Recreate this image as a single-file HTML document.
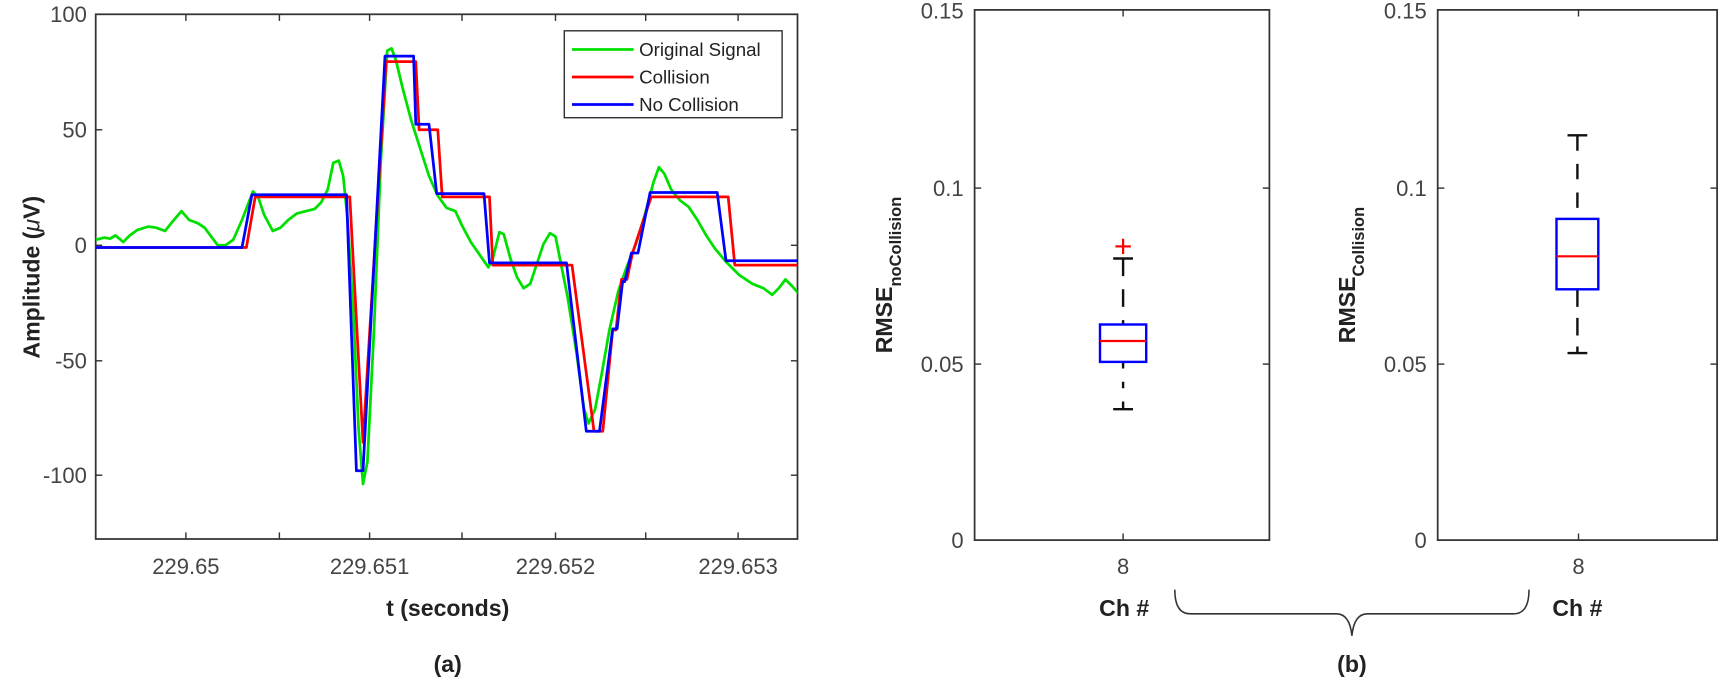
<!DOCTYPE html>
<html><head><meta charset="utf-8"><style>
html,body{margin:0;padding:0;background:#fff}
svg{display:block}
text{font-family:"Liberation Sans",Arial,sans-serif}
.tl{font-size:20px;fill:#444}
.b{font-weight:bold;font-size:21px;fill:#222}
</style></head><body>
<svg width="1725" height="680" viewBox="0 0 1725 680" xmlns="http://www.w3.org/2000/svg">
<g transform="scale(1.1)">
<!-- Panel (a) -->
<rect x="87" y="13" width="638" height="477" fill="none" stroke="#333" stroke-width="1.6"/>
<g stroke="#333" stroke-width="1.3">
<line x1="169" y1="490" x2="169" y2="484"/><line x1="169" y1="13" x2="169" y2="19"/>
<line x1="254" y1="490" x2="254" y2="484"/><line x1="254" y1="13" x2="254" y2="19"/>
<line x1="336" y1="490" x2="336" y2="484"/><line x1="336" y1="13" x2="336" y2="19"/>
<line x1="420" y1="490" x2="420" y2="484"/><line x1="420" y1="13" x2="420" y2="19"/>
<line x1="505" y1="490" x2="505" y2="484"/><line x1="505" y1="13" x2="505" y2="19"/>
<line x1="587" y1="490" x2="587" y2="484"/><line x1="587" y1="13" x2="587" y2="19"/>
<line x1="671" y1="490" x2="671" y2="484"/><line x1="671" y1="13" x2="671" y2="19"/>
<line x1="87" y1="118" x2="93" y2="118"/><line x1="725" y1="118" x2="719" y2="118"/>
<line x1="87" y1="223" x2="93" y2="223"/><line x1="725" y1="223" x2="719" y2="223"/>
<line x1="87" y1="328" x2="93" y2="328"/><line x1="725" y1="328" x2="719" y2="328"/>
<line x1="87" y1="432" x2="93" y2="432"/><line x1="725" y1="432" x2="719" y2="432"/>
</g>
<g class="tl" text-anchor="end">
<text x="79" y="20">100</text><text x="79" y="125">50</text><text x="79" y="230">0</text>
<text x="79" y="335">-50</text><text x="79" y="439">-100</text>
</g>
<g class="tl" text-anchor="middle">
<text x="169" y="522">229.65</text><text x="336" y="522">229.651</text>
<text x="505" y="522">229.652</text><text x="671" y="522">229.653</text>
</g>
<text class="b" x="407" y="560" text-anchor="middle">t (seconds)</text>
<text class="b" transform="translate(36,252) rotate(-90)" text-anchor="middle">Amplitude (<tspan font-style="italic" font-weight="normal">μ</tspan>V)</text>
<text class="b" x="407" y="611" text-anchor="middle">(a)</text>

<svg x="87" y="13" width="638" height="477" viewBox="87 13 638 477" overflow="hidden">
<polyline fill="none" stroke="#00e000" stroke-width="2.5" stroke-linejoin="round" points="87,218 95,216 100,217 105,214 112,220 118,214 125,209 135,206 142,207 150,210 158,200 165,192 172,200 180,203 186,207 192,215 198,223 205,223 212,218 220,200 230,174 235,180 240,195 248,210 255,207 262,200 270,194 278,192 286,190 292,184 298,172 303,148 308,146 312,160 316,200 321,280 326,390 330,440 334,420 340,300 346,150 352,46 356,44 360,55 366,80 374,110 382,135 390,160 398,178 406,189 414,192 420,205 428,220 437,233 444,243 448,235 454,211 458,213 464,235 470,252 476,262 482,258 488,240 494,222 500,212 505,215 510,240 516,270 524,320 531,372 535,385 541,372 547,340 554,300 562,265 570,242 578,222 586,196 594,166 599,152 604,158 610,172 618,182 626,188 634,200 642,214 650,226 660,238 672,250 684,258 694,262 702,268 708,262 714,254 720,260 727,268"/>
<polyline fill="none" stroke="#ff0000" stroke-width="2.5" stroke-linejoin="round" points="87,225 224,225 232,179 318,179 330,402 351,56 378,56 381,118 398,118 402,179 445,179 448,241 520,241 540,392 548,392 557,300 560,300 565,254 570,254 575,230 592,179 662,179 668,241 727,241"/>
<polyline fill="none" stroke="#0000ff" stroke-width="2.5" stroke-linejoin="round" points="87,225 220,225 229,177 315,177 324,428 330,428 350,51 376,51 378,113 390,113 397,176 440,176 445,239 515,239 533,392 545,392 557,299 561,299 566,256 568,256 574,230 580,230 591,175 652,175 660,237 727,237"/>
</svg>
<!-- legend -->
<rect x="513" y="28" width="198" height="79" fill="#fff" stroke="#333" stroke-width="1.3"/>
<line x1="520" y1="45" x2="576" y2="45" stroke="#00e000" stroke-width="2.5"/>
<line x1="520" y1="70" x2="576" y2="70" stroke="#ff0000" stroke-width="2.5"/>
<line x1="520" y1="95" x2="576" y2="95" stroke="#0000ff" stroke-width="2.5"/>
<g font-size="17" fill="#222"><text x="581" y="51">Original Signal</text><text x="581" y="76">Collision</text><text x="581" y="101">No Collision</text></g>

<!-- Box plot 1 -->
<rect x="886" y="9" width="268" height="482" fill="none" stroke="#333" stroke-width="1.6"/>
<g stroke="#333" stroke-width="1.3">
<line x1="1021" y1="491" x2="1021" y2="485"/><line x1="1021" y1="9" x2="1021" y2="15"/>
<line x1="886" y1="171" x2="892" y2="171"/><line x1="1154" y1="171" x2="1148" y2="171"/>
<line x1="886" y1="331" x2="892" y2="331"/><line x1="1154" y1="331" x2="1148" y2="331"/>
</g>
<g class="tl" text-anchor="end"><text x="876" y="17">0.15</text><text x="876" y="178">0.1</text><text x="876" y="338">0.05</text><text x="876" y="498">0</text></g>
<text class="tl" x="1021" y="522" text-anchor="middle">8</text>
<text class="b" x="1022" y="560" text-anchor="middle">Ch #</text>
<text class="b" transform="translate(811,250) rotate(-90)" text-anchor="middle">RMSE<tspan font-size="15" dy="8">noCollision</tspan></text>
<g stroke="#111" stroke-width="2.2" fill="none">
<line x1="1021" y1="235" x2="1021" y2="295" stroke-dasharray="16,12"/>
<line x1="1012" y1="235" x2="1030" y2="235"/>
<line x1="1021" y1="329" x2="1021" y2="372" stroke-dasharray="6,12"/>
<line x1="1012" y1="372" x2="1030" y2="372"/>
</g>
<rect x="1000" y="295" width="42" height="34" fill="none" stroke="#0000ff" stroke-width="2.2"/>
<line x1="1000" y1="310" x2="1042" y2="310" stroke="#ff0000" stroke-width="2"/>
<g stroke="#ff0000" stroke-width="2"><line x1="1014" y1="224" x2="1028" y2="224"/><line x1="1021" y1="217" x2="1021" y2="231"/></g>

<!-- Box plot 2 -->
<rect x="1307" y="9" width="254" height="482" fill="none" stroke="#333" stroke-width="1.6"/>
<g stroke="#333" stroke-width="1.3">
<line x1="1435" y1="491" x2="1435" y2="485"/><line x1="1435" y1="9" x2="1435" y2="15"/>
<line x1="1307" y1="171" x2="1313" y2="171"/><line x1="1561" y1="171" x2="1555" y2="171"/>
<line x1="1307" y1="331" x2="1313" y2="331"/><line x1="1561" y1="331" x2="1555" y2="331"/>
</g>
<g class="tl" text-anchor="end"><text x="1297" y="17">0.15</text><text x="1297" y="178">0.1</text><text x="1297" y="338">0.05</text><text x="1297" y="498">0</text></g>
<text class="tl" x="1435" y="522" text-anchor="middle">8</text>
<text class="b" x="1434" y="560" text-anchor="middle">Ch #</text>
<text class="b" transform="translate(1232,250) rotate(-90)" text-anchor="middle">RMSE<tspan font-size="15" dy="8">Collision</tspan></text>
<g stroke="#111" stroke-width="2.2" fill="none">
<line x1="1434" y1="123" x2="1434" y2="199" stroke-dasharray="14,12"/>
<line x1="1425" y1="123" x2="1443" y2="123"/>
<line x1="1434" y1="263" x2="1434" y2="321" stroke-dasharray="16,10"/>
<line x1="1425" y1="321" x2="1443" y2="321"/>
</g>
<rect x="1415" y="199" width="38" height="64" fill="none" stroke="#0000ff" stroke-width="2.2"/>
<line x1="1415" y1="233" x2="1453" y2="233" stroke="#ff0000" stroke-width="2"/>

<!-- brace -->
<path d="M1068,536 Q1068,558 1082,558 L1215,558 Q1227,558 1229,578 Q1231,558 1243,558 L1376,558 Q1390,558 1390,536" fill="none" stroke="#333" stroke-width="1.4"/>
<text class="b" x="1229" y="611" text-anchor="middle">(b)</text>
</g>
</svg>
</body></html>
